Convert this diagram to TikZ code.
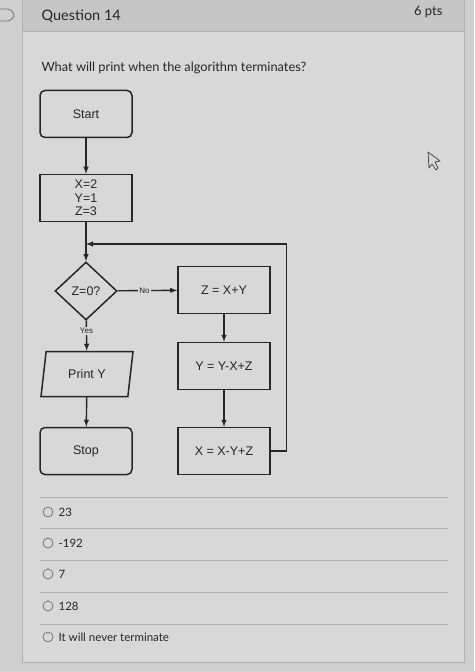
\documentclass[tikz,border=0pt]{standalone}
\usepackage{fontspec}
\setmainfont{Lato}
\newfontfamily\chartfont{Liberation Sans}
\usetikzlibrary{shapes,shapes.geometric,arrows,positioning}

\definecolor{pagegray}{HTML}{CFCFCF}
\definecolor{headgray}{HTML}{C6C6C6}
\definecolor{cardgray}{HTML}{D8D8D8}
\definecolor{edgegray}{HTML}{B0B0B0}
\definecolor{ink}{HTML}{262626}

\begin{document}
\begin{tikzpicture}[x=1pt,y=-1pt,
		box/.style={draw=ink,line width=1.5pt,fill=cardgray,minimum width=92pt,minimum height=47pt,
			align=center,text=ink,font=\chartfont\fontsize{12.5}{13.5}\selectfont},
		term/.style={box,rounded corners=5pt},
		decide/.style={box,diamond,minimum width=62pt,minimum height=58pt,inner sep=0pt},
		io/.style={box,trapezium,trapezium left angle=72,trapezium right angle=108,
			trapezium stretches body,minimum width=92pt,minimum height=45pt},
		flow/.style={draw=ink,line width=1.4pt,-latex},
		tag/.style={fill=cardgray,inner sep=1pt,text=ink,font=\chartfont\fontsize{8}{9}\selectfont},
		radio/.style={draw=black!55,line width=0.8pt,circle,minimum size=10pt,inner sep=0pt},
		opt/.style={text=ink,inner sep=0pt,font=\fontsize{11.5}{13}\selectfont}]
	
	\useasboundingbox (0,0) rectangle (474,671);
	\fill[pagegray] (0,0) rectangle (474,671);
	\fill[cardgray] (22,32) rectangle (464,662);
	\fill[headgray] (22,0) rectangle (464,32);
	\draw[edgegray,line width=1pt] (22,0) -- (22,662) -- (464,662) -- (464,0);
	\draw[edgegray,line width=1pt] (22,32) -- (464,32);
	\draw[black!55,line width=0.8pt,rounded corners=2pt] (0,9) -- (10,9) -- (15,15) -- (10,21) -- (0,21);
	
	% header
	\node[anchor=west,text=ink,font=\fontsize{14.5}{18}\selectfont] (qtitle) at (38,16) {Question 14};
	\node[anchor=east,text=ink,font=\fontsize{13}{16}\selectfont] (qpts) at (446,12) {6 pts};
	\node[anchor=west,text=ink,font=\fontsize{12.8}{15}\selectfont] (prompt) at (38,68) {What will print when the algorithm terminates?};
	
	% flowchart
	\node[term] (start) at (86,114) {Start};
	\node[box] (init) at (86,198) {X=2\\Y=1\\Z=3};
	\node[decide] (test) at (86,291) {Z=0?};
	\node[io] (print) at (87,374) {Print Y};
	\node[term] (stop) at (86,451) {Stop};
	\node[box] (zbox) at (224,290) {Z = X+Y};
	\node[box] (ybox) at (224,366) {Y = Y-X+Z};
	\node[box] (xbox) at (224,451) {X = X-Y+Z};
	\coordinate (merge) at (86,244);
	
	\draw[flow] (start) -- (init);
	\draw[flow] (init) -- (test);
	\draw[flow] (test) -- node[tag,pos=0.45]{No} (zbox);
	\draw[flow] (test) -- node[tag,pos=0.35]{Yes} (print);
	\draw[flow] (print) -- (stop);
	\draw[flow] (zbox) -- (ybox);
	\draw[flow] (ybox) -- (xbox);
	\draw[flow] (xbox.east) -- ++(16,0) |- (merge);
	
	% pointer
	\draw[black!70,line width=0.8pt,fill=cardgray,line join=round]
		(428,152) -- (429,168) -- (432,164) -- (436,170) -- (438,168) -- (435,162) -- (440,161) -- cycle;
	
	% answers
	\draw[edgegray] (40,497) -- (448,497);
	\draw[edgegray] (40,528) -- (448,528);
	\draw[edgegray] (40,560) -- (448,560);
	\draw[edgegray] (40,592) -- (448,592);
	\draw[edgegray] (40,624) -- (448,624);
	
	\node[radio] (r1) at (48,512) {};
	\node[radio] (r2) at (48,543) {};
	\node[radio] (r3) at (48,574) {};
	\node[radio] (r4) at (48,606) {};
	\node[radio] (r5) at (48,637) {};
	\node[opt,right=5pt of r1] (a1) {23};
	\node[opt,right=5pt of r2] (a2) {-192};
	\node[opt,right=5pt of r3] (a3) {7};
	\node[opt,right=5pt of r4] (a4) {128};
	\node[opt,right=5pt of r5] (a5) {It will never terminate};
	
\end{tikzpicture}
\end{document}
